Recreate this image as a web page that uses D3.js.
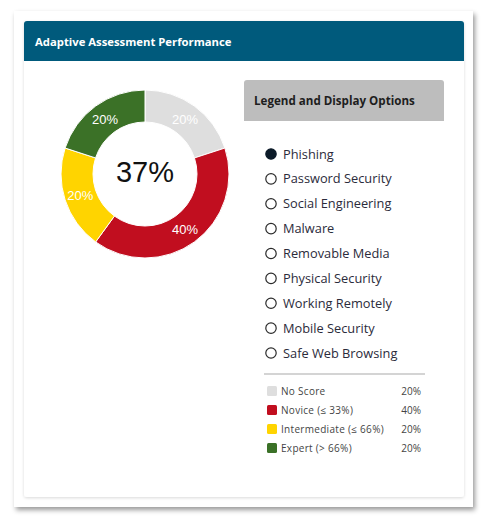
<!DOCTYPE html>
<html>
<head>
<meta charset="utf-8">
<script src="https://cdn.jsdelivr.net/npm/d3@7"></script>
<style>
    body { margin: 0; background: #fff; }
    svg { display: block; }
    text { font-family: "Open Sans", sans-serif; }
</style>
</head>
<body>
<svg id="chart" width="488" height="525"></svg>
<script>
(function(){
    "use strict";

    var levels = ["No Score", "Novice (\u2264 33%)", "Intermediate (\u2264 66%)", "Expert (> 66%)"];
    var levelValues = [20, 40, 20, 20];
    var levelColors = ["#dedede", "#c10e1f", "#ffd400", "#3b7127"];
    var topics = ["Phishing", "Password Security", "Social Engineering", "Malware",
        "Removable Media", "Physical Security", "Working Remotely", "Mobile Security",
        "Safe Web Browsing"];
    var selectedTopic = 0;
    var overallScore = 37;

    var svg = d3.select("#chart");

    var defs = svg.append("defs");
    var shadow = defs.append("filter").attr("id", "cardShadow")
        .attr("x", "-5%").attr("y", "-5%").attr("width", "112%").attr("height", "112%");
    shadow.append("feDropShadow").attr("dx", 2).attr("dy", 3)
        .attr("stdDeviation", 2.5).attr("flood-color", "#000").attr("flood-opacity", 0.4);
    var soft = defs.append("filter").attr("id", "panelShadow")
        .attr("x", "-5%").attr("y", "-5%").attr("width", "112%").attr("height", "112%");
    soft.append("feDropShadow").attr("dx", 0).attr("dy", 1)
        .attr("stdDeviation", 1.5).attr("flood-color", "#000").attr("flood-opacity", 0.15);

    // outer card and inner panel
    svg.append("rect").attr("x", 14).attr("y", 11).attr("width", 459).attr("height", 496)
        .attr("fill", "#fff").attr("filter", "url(#cardShadow)");
    svg.append("rect").attr("x", 24).attr("y", 21).attr("width", 440).attr("height", 476)
        .attr("rx", 3).attr("fill", "#fff").attr("filter", "url(#panelShadow)");

    /*
        rect with rounded top corners only
    */
    function topRounded(x, y, w, h, r){
        return "M" + x + "," + (y + h) + "V" + (y + r) + "Q" + x + "," + y + " " + (x + r) + "," + y +
            "H" + (x + w - r) + "Q" + (x + w) + "," + y + " " + (x + w) + "," + (y + r) + "V" + (y + h) + "Z";
    }

    svg.append("path").attr("d", topRounded(24, 21, 440, 40, 3)).attr("fill", "#005a7c");
    svg.append("text").attr("x", 35).attr("y", 46).attr("fill", "#fff")
        .attr("font-size", 11.3).attr("font-weight", "bold")
        .text("Adaptive Assessment Performance");

    svg.append("path").attr("d", topRounded(244, 80, 200, 41, 3)).attr("fill", "#bdbdbd");
    svg.append("text").attr("x", 254).attr("y", 105).attr("fill", "#1e1e1e")
        .attr("font-size", 11.6).attr("font-weight", "bold")
        .text("Legend and Display Options");

    // donut
    var cx = 145, cy = 174;
    var pie = d3.pie().sort(null).value(function(d){ return d; });
    var arc = d3.arc().innerRadius(52).outerRadius(84);
    var labelArc = d3.arc().innerRadius(68).outerRadius(68);
    var slices = pie(levelValues);

    var donut = svg.append("g").attr("transform", "translate(" + cx + "," + cy + ")");
    donut.selectAll("path.slice")
        .data(slices)
        .enter().append("path")
        .attr("class", "slice")
        .attr("d", arc)
        .attr("fill", function(d, i){ return levelColors[i]; })
        .attr("stroke", "#fff")
        .attr("stroke-width", 1);

    donut.selectAll("text.pct")
        .data(slices)
        .enter().append("text")
        .attr("class", "pct")
        .attr("transform", function(d){ return "translate(" + labelArc.centroid(d) + ")"; })
        .attr("dy", "0.36em")
        .attr("text-anchor", "middle")
        .attr("fill", "#fff")
        .attr("font-size", 13)
        .style("font-family", "'Liberation Sans', Arial, sans-serif")
        .text(function(d){ return d.data + "%"; });

    donut.append("text")
        .attr("y", 8)
        .attr("text-anchor", "middle")
        .attr("fill", "#111")
        .attr("font-size", 29)
        .style("font-family", "'Liberation Sans', Arial, sans-serif")
        .text(overallScore + "%");

    // topic radio list
    var yTopic = d3.scaleLinear().domain([0, topics.length - 1]).range([154, 353]);
    var radios = svg.selectAll("g.radio")
        .data(topics)
        .enter().append("g")
        .attr("class", "radio")
        .attr("transform", function(d, i){ return "translate(271," + yTopic(i) + ")"; });

    radios.append("circle")
        .attr("r", 5.2)
        .attr("fill", function(d, i){ return i === selectedTopic ? "#0b1a28" : "#fff"; })
        .attr("stroke", function(d, i){ return i === selectedTopic ? "#0b1a28" : "#2a2a2a"; })
        .attr("stroke-width", 1.2);

    radios.append("text")
        .attr("x", 12)
        .attr("dy", "0.36em")
        .attr("font-size", 12.8)
        .attr("fill", "#2b2b3b")
        .text(function(d){ return d; });

    svg.append("line").attr("x1", 264).attr("x2", 425).attr("y1", 374).attr("y2", 374)
        .attr("stroke", "#d4d4d4").attr("stroke-width", 2);

    // level legend
    var yLevel = d3.scaleLinear().domain([0, levels.length - 1]).range([391, 448]);
    var rows = svg.selectAll("g.level")
        .data(levels)
        .enter().append("g")
        .attr("class", "level")
        .attr("transform", function(d, i){ return "translate(267," + yLevel(i) + ")"; });

    rows.append("rect")
        .attr("x", 0).attr("y", -5).attr("width", 10).attr("height", 10).attr("rx", 1.5)
        .attr("fill", function(d, i){ return levelColors[i]; });

    rows.append("text")
        .attr("x", 14).attr("dy", "0.36em")
        .attr("font-size", 10).attr("letter-spacing", 0.3).attr("fill", "#444")
        .text(function(d){ return d; });

    rows.append("text")
        .attr("x", 154).attr("dy", "0.36em")
        .attr("text-anchor", "end")
        .attr("font-size", 10).attr("fill", "#444")
        .text(function(d, i){ return levelValues[i] + "%"; });
}());
</script>
</body>
</html>
